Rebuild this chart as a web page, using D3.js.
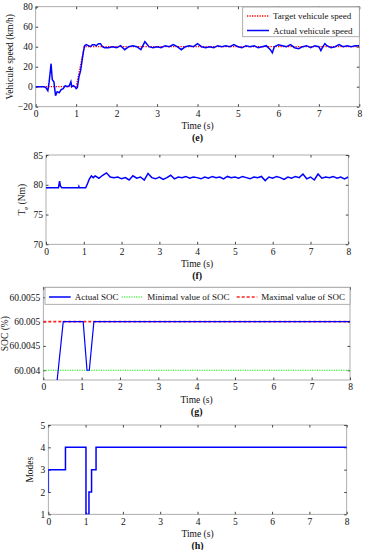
<!DOCTYPE html>
<meta charset="utf-8">
<style>
body { margin: 0; background: #fff; }
svg text { font-family: "Liberation Serif", "Times New Roman", serif; fill: #111; }
.box { fill: none; stroke: #9a9a9a; stroke-width: 0.8px; }
.tick line { stroke: #444; }
.domain { display: none; }
</style>
<body>
<script src="https://d3js.org/d3.v7.min.js"></script>
<script>

// ---- data ----
var timeTicks = [0, 1, 2, 3, 4, 5, 6, 7, 8];

// (e) vehicle speed
var targetTime  = [0, 1.0, 1.2, 8];
var targetSpeed = [0, 0, 40, 40];
var speedTime = [0, 0.2, 0.25, 0.3, 0.33, 0.36, 0.38, 0.41, 0.45, 0.49, 0.53, 0.58, 0.63, 0.68, 0.73, 0.78, 0.83, 0.87, 0.89, 0.93, 0.97, 1.0, 1.03, 1.07, 1.11, 1.15, 1.18, 1.21, 1.25, 1.3, 1.35, 1.4, 1.45, 1.5, 1.55, 1.6, 1.65,
  1.7, 1.8, 1.9, 2.0, 2.1, 2.2, 2.3, 2.4, 2.5, 2.6, 2.7, 2.8, 2.9, 3.0, 3.1, 3.2, 3.3, 3.4, 3.5, 3.6, 3.7, 3.8, 3.9, 4.0,
  4.1, 4.2, 4.3, 4.4, 4.5, 4.6, 4.7, 4.8, 4.9, 5.0, 5.1, 5.2, 5.3, 5.4, 5.5, 5.6, 5.7, 5.8, 5.85, 5.9, 6.0,
  6.1, 6.2, 6.3, 6.4, 6.5, 6.6, 6.7, 6.8, 6.9, 7.0, 7.05, 7.1, 7.15, 7.2, 7.3, 7.4, 7.5, 7.6, 7.7, 7.8, 7.9, 8.0];
var speedActual = [0, 0, -1, -4, 4, 15, 23, 7, 5, -9, -5, -6, -3, -2, 1, 0, 1, 5, 0, 1, 0, -2, -1, 10, 16, 27, 35, 41, 42, 41, 40, 42, 42, 41, 43, 43, 40,
  39, 39, 40, 39, 41, 37, 40, 41, 40, 37, 45, 40, 39, 40, 39, 41, 40, 42, 40, 37, 40, 41, 40, 43,
  40, 39, 40, 39, 41, 40, 41, 40, 42, 40, 39, 41, 40, 41, 39, 40, 41, 37, 34, 40, 42,
  41, 40, 42, 39, 38, 40, 41, 39, 41, 40, 36, 40, 43, 41, 39, 40, 42, 40, 41, 40, 41, 41];

// (f) torque
var torqueTime = [0, 0.33, 0.36, 0.38, 0.42, 0.86, 0.87, 0.88, 1.05, 1.1, 1.15, 1.2, 1.25,
  1.3, 1.4, 1.5, 1.6, 1.7, 1.8, 1.9, 2.0, 2.1, 2.2, 2.3, 2.4, 2.5, 2.6, 2.7, 2.8, 2.9, 3.0,
  3.1, 3.2, 3.3, 3.4, 3.5, 3.6, 3.7, 3.8, 3.9, 4.0, 4.1, 4.2, 4.3, 4.4, 4.5, 4.6, 4.7, 4.8, 4.9, 5.0,
  5.1, 5.2, 5.3, 5.4, 5.5, 5.6, 5.7, 5.8, 5.9, 6.0, 6.1, 6.2, 6.3, 6.4, 6.5, 6.6, 6.7, 6.8, 6.9, 7.0,
  7.1, 7.2, 7.3, 7.4, 7.5, 7.6, 7.7, 7.8, 7.9, 8.0];
var torque = [79.5, 79.5, 80.6, 79.8, 79.5, 79.5, 79.7, 79.5, 79.5, 80.2, 81.0, 81.5, 81.2,
  81.5, 81.1, 81.6, 82.0, 81.3, 81.2, 81.3, 81.0, 81.2, 80.8, 81.5, 81.1, 81.3, 80.8, 81.9, 81.2, 81.0, 81.3,
  80.9, 81.2, 81.6, 81.0, 81.3, 81.2, 81.4, 81.1, 81.3, 81.2, 81.0, 81.3, 81.1, 81.4, 81.2, 81.3, 81.0, 81.4, 81.2, 81.3,
  81.1, 81.4, 81.2, 81.0, 81.3, 81.2, 81.4, 80.7, 81.3, 81.1, 81.4, 81.2, 80.9, 81.3, 81.1, 81.4, 81.2, 81.8, 81.0, 81.3,
  80.8, 81.8, 81.1, 81.3, 81.2, 81.4, 81.1, 81.3, 81.0, 81.3];

// (g) state of charge
var socTime = [0.3, 0.52, 1.04, 1.14, 1.2, 1.32, 8];
var soc     = [60.00333, 60.005, 60.005, 60.004, 60.004, 60.005, 60.005];
var socMin = 60.004, socMax = 60.005;
var socTicks = [60.004, 60.0045, 60.005, 60.0055];

// (h) modes (step function)
var modeTime = [0, 0.001, 0.46, 1.01, 1.09, 1.16, 1.28, 8];
var modes    = [2, 3, 4, 1, 2, 3, 4, 4];

// ---- drawing ----
var svg = d3.select("body").append("svg")
    .attr("width", 368)
    .attr("height", 550);

function zip(t, v) { return t.map(function(d, i) { return [d, v[i]]; }); }

function panel(p) {
  var x = d3.scaleLinear().domain([0, 8]).range([p.left, p.right]);
  var y = d3.scaleLinear().domain(p.yDomain).range([p.bottom, p.top]);
  var g = svg.append("g");

  g.append("clipPath").attr("id", p.id)
    .append("rect")
    .attr("x", p.left).attr("y", p.top)
    .attr("width", p.right - p.left).attr("height", p.bottom - p.top);

  g.append("rect").attr("class", "box")
    .attr("x", p.left).attr("y", p.top)
    .attr("width", p.right - p.left).attr("height", p.bottom - p.top);

  // ticks inside, on all four sides
  g.append("g").attr("transform", "translate(0," + p.bottom + ")")
    .call(d3.axisBottom(x).tickValues(timeTicks).tickSize(-2.5).tickPadding(3.5).tickFormat(d3.format("d")))
    .selectAll("text").style("font-size", "9.5px").style("font-family", "Liberation Serif, serif");
  g.append("g").attr("transform", "translate(0," + p.top + ")")
    .call(d3.axisTop(x).tickValues(timeTicks).tickSize(-2.5).tickFormat(""));
  g.append("g").attr("transform", "translate(" + p.left + ",0)")
    .call(d3.axisLeft(y).tickValues(p.yTicks).tickSize(-2.5).tickPadding(3).tickFormat(p.fmt))
    .selectAll("text").style("font-size", "9.5px").style("font-family", "Liberation Serif, serif");
  g.append("g").attr("transform", "translate(" + p.right + ",0)")
    .call(d3.axisRight(y).tickValues(p.yTicks).tickSize(-2.5).tickFormat(""));

  g.append("text")
    .attr("x", (p.left + p.right) / 2).attr("y", p.bottom + 22.5)
    .attr("text-anchor", "middle").style("font-size", "9.5px")
    .text("Time (s)");

  g.append("text")
    .attr("x", (p.left + p.right) / 2).attr("y", p.bottom + 34.5)
    .attr("text-anchor", "middle").style("font-size", "10px").style("font-weight", "bold")
    .text(p.tag);

  var yl = g.append("text")
    .attr("transform", "translate(" + p.yLabelX + "," + ((p.top + p.bottom) / 2) + ") rotate(-90)")
    .attr("text-anchor", "middle").style("font-size", "9.5px");
  if (p.yLabelSub) {
    yl.append("tspan").text(p.yLabel);
    yl.append("tspan").attr("dy", 2.5).style("font-size", "6.5px").text(p.yLabelSub);
    yl.append("tspan").attr("dy", -2.5).text(p.yLabelRest);
  } else {
    yl.text(p.yLabel);
  }

  var plot = g.append("g").attr("clip-path", "url(#" + p.id + ")");
  return { x: x, y: y, g: g, plot: plot };
}

function drawLine(P, data, color, width, dash, curve) {
  var line = d3.line()
      .x(function(d) { return P.x(d[0]); })
      .y(function(d) { return P.y(d[1]); })
      .curve(curve || d3.curveLinear);
  P.plot.append("path")
    .datum(data)
    .attr("fill", "none")
    .attr("stroke", color)
    .attr("stroke-width", width)
    .attr("stroke-dasharray", dash || null)
    .attr("d", line);
}

function legendItem(g, x1, x2, y, color, width, dash, label) {
  g.append("line").attr("x1", x1).attr("x2", x2).attr("y1", y).attr("y2", y)
    .attr("stroke", color).attr("stroke-width", width).attr("stroke-dasharray", dash || null);
  g.append("text").attr("x", x2 + 4).attr("y", y + 3).style("font-size", "9px").text(label);
}

// (e)
var pe = panel({ id: "ce", left: 35.7, right: 359.3, top: 6.7, bottom: 106.7,
  yDomain: [-20, 80], yTicks: [-20, 0, 20, 40, 60, 80], fmt: d3.format("d"),
  yLabel: "Vehicule speed (km/h)", yLabelX: 12.5, tag: "(e)" });
drawLine(pe, zip(targetTime, targetSpeed), "#ff0000", 1.3, "1.3,1.2");
drawLine(pe, zip(speedTime, speedActual), "#0000ff", 1.5);
pe.g.append("rect").attr("x", 242.7).attr("y", 7).attr("width", 116.6).attr("height", 29.7)
  .attr("fill", "#fff").attr("stroke", "#9a9a9a").attr("stroke-width", 0.8);
legendItem(pe.g, 247, 269, 16, "#ff0000", 1.3, "1.3,1.2", "Target vehicule speed");
legendItem(pe.g, 247, 269, 30.5, "#0000ff", 1.5, null, "Actual vehicule speed");

// (f)
var pf = panel({ id: "cf", left: 46, right: 348.3, top: 155, bottom: 244.3,
  yDomain: [70, 85], yTicks: [70, 75, 80, 85], fmt: d3.format("d"),
  yLabel: "T", yLabelSub: "e", yLabelRest: " (Nm)", yLabelX: 25, tag: "(f)" });
drawLine(pf, zip(torqueTime, torque), "#0000ff", 1.5);

// (g)
var pg = panel({ id: "cg", left: 43.3, right: 350, top: 287.3, bottom: 380,
  yDomain: [60.0038, 60.005705], yTicks: socTicks, fmt: function(d) { return String(+d.toFixed(4)); },
  yLabel: "SOC (%)", yLabelX: 8, tag: "(g)" });
drawLine(pg, [[0, socMin], [8, socMin]], "#00ee00", 1.2, "1.2,1.2");
drawLine(pg, [[0, socMax], [8, socMax]], "#ff2020", 1.6, "3,2");
drawLine(pg, zip(socTime, soc), "#0000ff", 1.2);
pg.g.append("rect").attr("x", 45).attr("y", 287.3).attr("width", 305).attr("height", 17)
  .attr("fill", "#fff").attr("stroke", "#9a9a9a").attr("stroke-width", 0.8);
legendItem(pg.g, 49, 70.7, 297, "#0000ff", 1.5, null, "Actual SOC");
legendItem(pg.g, 121.7, 143.3, 297, "#00ee00", 1.2, "1.2,1.2", "Minimal value of SOC");
legendItem(pg.g, 236.7, 257.3, 297, "#ff2020", 1.6, "3,2", "Maximal value of SOC");

// (h)
var ph = panel({ id: "ch", left: 48.3, right: 346.7, top: 425, bottom: 514.3,
  yDomain: [1, 5], yTicks: [1, 2, 3, 4, 5], fmt: d3.format("d"),
  yLabel: "Modes", yLabelX: 33, tag: "(h)" });
drawLine(ph, zip(modeTime, modes), "#0000ff", 1.5, null, d3.curveStepAfter);

</script>
</body>
